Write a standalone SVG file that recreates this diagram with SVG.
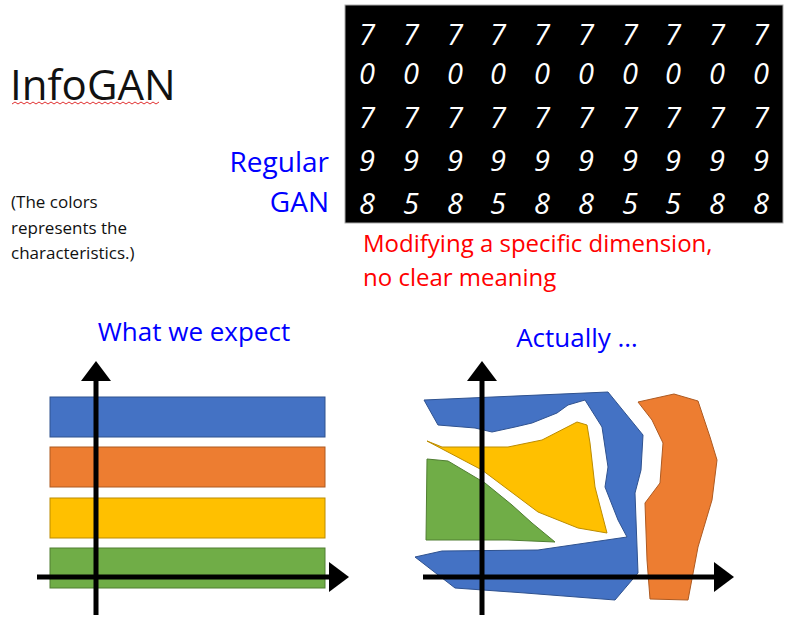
<svg xmlns="http://www.w3.org/2000/svg" width="789" height="621" viewBox="0 0 789 621">
<style>
text{font-family:"Open Sans","Noto Sans","Liberation Sans",sans-serif}
.d{fill:#fff;font-family:"DejaVu Sans",sans-serif;font-style:italic;font-size:29px;text-anchor:middle}
.ax{stroke:#000;stroke-width:5;fill:none}
.b{fill:#4472C4;stroke:#2F528F}.o{fill:#ED7D31;stroke:#AE5A21}.y{fill:#FFC000;stroke:#BC8C00}.g{fill:#70AD47;stroke:#507E32}
</style>
<defs><marker id="ar" markerWidth="6" markerHeight="6" refX="1" refY="3" orient="auto" markerUnits="strokeWidth"><path d="M0,0L4,3L0,6z" fill="#000"/></marker></defs>
<rect width="789" height="621" fill="#fff"/>
<text x="10" y="100" font-size="42" fill="#111">InfoGAN</text>
<path d="M12,104 l3,-2 3,2 3,-2 3,2 3,-2 3,2 3,-2 3,2 3,-2 3,2 3,-2 3,2 3,-2 3,2 3,-2 3,2 3,-2 3,2 3,-2 3,2 3,-2 3,2 3,-2 3,2 3,-2 3,2 3,-2 3,2 3,-2 3,2 3,-2 3,2 3,-2 3,2 3,-2 3,2 3,-2 3,2 3,-2 3,2 3,-2 3,2 3,-2 3,2 3,-2 3,2 3,-2 3,2 3,-2" stroke="#e03030" fill="none" stroke-width="1"/>
<g font-size="17" fill="#111"><text x="11" y="208">(The colors</text><text x="11" y="234">represents the</text><text x="11" y="259">characteristics.)</text></g>
<g font-size="28" fill="#0000ff" text-anchor="end"><text x="329" y="172">Regular</text><text x="329" y="212">GAN</text></g>
<g font-size="24" fill="#ff0000"><text x="363" y="252">Modifying a specific dimension,</text><text x="363" y="286">no clear meaning</text></g>
<g id="grid"><rect x="345" y="5" width="438" height="218" fill="#000" stroke="#aaa"/>
<g class="d">
<text x="367" y="45">7</text><text x="411" y="45">7</text><text x="455" y="45">7</text><text x="498" y="45">7</text><text x="542" y="45">7</text><text x="586" y="45">7</text><text x="630" y="45">7</text><text x="673" y="45">7</text><text x="717" y="45">7</text><text x="761" y="45">7</text>
<text x="367" y="84">0</text><text x="411" y="84">0</text><text x="455" y="84">0</text><text x="498" y="84">0</text><text x="542" y="84">0</text><text x="586" y="84">0</text><text x="630" y="84">0</text><text x="673" y="84">0</text><text x="717" y="84">0</text><text x="761" y="84">0</text>
<text x="367" y="128">7</text><text x="411" y="128">7</text><text x="455" y="128">7</text><text x="498" y="128">7</text><text x="542" y="128">7</text><text x="586" y="128">7</text><text x="630" y="128">7</text><text x="673" y="128">7</text><text x="717" y="128">7</text><text x="761" y="128">7</text>
<text x="367" y="171">9</text><text x="411" y="171">9</text><text x="455" y="171">9</text><text x="498" y="171">9</text><text x="542" y="171">9</text><text x="586" y="171">9</text><text x="630" y="171">9</text><text x="673" y="171">9</text><text x="717" y="171">9</text><text x="761" y="171">9</text>
<text x="367" y="214">8</text><text x="411" y="214">5</text><text x="455" y="214">8</text><text x="498" y="214">5</text><text x="542" y="214">8</text><text x="586" y="214">8</text><text x="630" y="214">5</text><text x="673" y="214">5</text><text x="717" y="214">8</text><text x="761" y="214">8</text>
</g></g>
<g font-size="26" fill="#0000ff" text-anchor="middle"><text x="194" y="341">What we expect</text><text x="577" y="347">Actually …</text></g>
<g id="left">
<rect class="b" x="50" y="397" width="275" height="40"/>
<rect class="o" x="50" y="447" width="275" height="40"/>
<rect class="y" x="50" y="498" width="275" height="40"/>
<rect class="g" x="50" y="548" width="275" height="40"/>
</g>
<g id="right">
<path class="b" d="M424,400 L608,392 643,435 641,470 635,493 638,573 615,600 525,593 455,588 415,557 442,551 538,550 627,537 618,520 605,487 608,467 602,427 585,400 568,405 557,413 532,423 515,427 492,432 475,428 438,425 Z"/>
<path class="y" d="M427,441 442,447 508,447 542,440 577,422 587,425 590,443 595,487 607,533 578,528 538,512 482,470 Z"/>
<path class="g" d="M427,459 448,461 485,483 512,505 532,523 555,542 508,540 426,540 Z"/>
<path class="o" d="M638,402 674,394 698,401 710,437 717,460 712,500 698,547 688,600 650,599 647,560 645,503 660,483 663,443 652,420 Z"/>
</g>
<g id="connectors">
<line class="ax" x1="96" y1="615" x2="96" y2="376" marker-end="url(#ar)"/>
<line class="ax" x1="37" y1="577" x2="334" y2="577" marker-end="url(#ar)"/>
<line class="ax" x1="482" y1="615" x2="482" y2="376" marker-end="url(#ar)"/>
<line class="ax" x1="423" y1="577" x2="719" y2="577" marker-end="url(#ar)"/>
</g>
</svg>
